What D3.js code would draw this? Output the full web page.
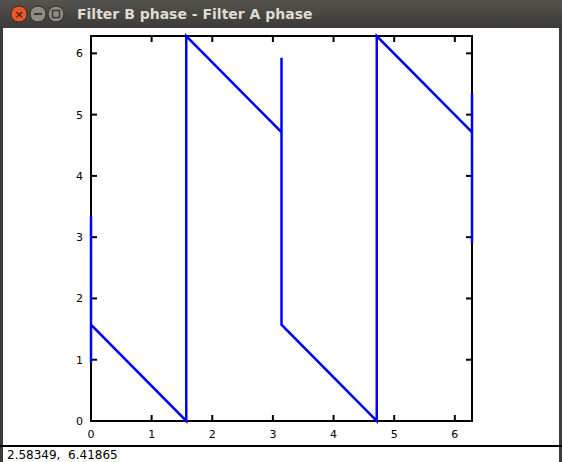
<!DOCTYPE html><html><head><meta charset="utf-8">
<script src="https://cdn.jsdelivr.net/npm/d3@7"></script>
<style>body{margin:0;background:#fff}svg{display:block}</style></head><body>
<script>
const xs = [0, 0, 0, 1.5708, 1.5708, 3.1416, 3.1416, 3.1416, 4.7124, 4.7124, 6.2832, 6.2832, 6.2832];
const ys = [0.95, 3.35, 1.5708, 0, 6.2832, 4.7124, 5.93, 1.5708, 0, 6.2832, 4.7124, 5.35, 2.9];
const xTicks = [0,1,2,3,4,5,6];
const yTicks = [0,1,2,3,4,5,6];
const title = "Filter B phase - Filter A phase";
const status = "2.58349,  6.41865";

const W=562,H=462;
const svg=d3.select("body").append("svg").attr("width",W).attr("height",H);
svg.append("rect").attr("width",W).attr("height",H).attr("fill","#fff");
const g0=svg.append("defs").append("linearGradient").attr("id","tb").attr("x1",0).attr("x2",0).attr("y1",0).attr("y2",1);
g0.append("stop").attr("offset",0).attr("stop-color","#55534d");
g0.append("stop").attr("offset",1).attr("stop-color","#3c3b37");
svg.append("rect").attr("width",W).attr("height",28).attr("fill","url(#tb)");
svg.append("circle").attr("cx",19).attr("cy",14).attr("r",8).attr("fill","#e9582a").attr("stroke","#3a2a22");
svg.append("text").attr("x",19).attr("y",18).attr("text-anchor","middle").attr("font-size",11).attr("font-weight","bold").attr("fill","#4a2010").attr("font-family","DejaVu Sans").text("×");
svg.append("circle").attr("cx",38).attr("cy",14).attr("r",8).attr("fill","#8e8c86").attr("stroke","#2e2d2a");
svg.append("rect").attr("x",34).attr("y",13).attr("width",8).attr("height",2).attr("fill","#3c3b37");
svg.append("circle").attr("cx",56).attr("cy",14).attr("r",8).attr("fill","#8e8c86").attr("stroke","#2e2d2a");
svg.append("rect").attr("x",52.5).attr("y",10.5).attr("width",7).attr("height",7).attr("fill","none").attr("stroke","#3c3b37").attr("stroke-width",1.5);
svg.append("text").attr("x",77).attr("y",19).attr("font-family","DejaVu Sans").attr("font-weight","bold").attr("font-size",14).attr("fill","#dfdbd2").text(title);
svg.append("rect").attr("x",0).attr("y",28).attr("width",3).attr("height",H-28).attr("fill","#3c3b37");
svg.append("rect").attr("x",W-3).attr("y",28).attr("width",3).attr("height",H-28).attr("fill","#3c3b37");
svg.append("rect").attr("x",0).attr("y",445).attr("width",W).attr("height",2).attr("fill","#000");
svg.append("text").attr("x",7).attr("y",459).attr("font-family","DejaVu Sans").attr("font-size",12).attr("fill","#000").style("white-space","pre").text(status);

const x=d3.scaleLinear().domain([0,2*Math.PI]).range([91,472]);
const y=d3.scaleLinear().domain([0,2*Math.PI]).range([421,36]);
const fnt="DejaVu Sans";
const ax=svg.append("g");
xTicks.forEach(t=>{
  ax.append("line").attr("x1",x(t)).attr("x2",x(t)).attr("y1",421).attr("y2",415).attr("stroke","#000").attr("stroke-width",2);
  ax.append("line").attr("x1",x(t)).attr("x2",x(t)).attr("y1",36).attr("y2",42).attr("stroke","#000").attr("stroke-width",2);
  ax.append("text").attr("x",x(t)).attr("y",438).attr("text-anchor","middle").attr("font-family",fnt).attr("font-size",11).text(t);
});
yTicks.forEach(t=>{
  ax.append("line").attr("x1",91).attr("x2",97).attr("y1",y(t)).attr("y2",y(t)).attr("stroke","#000").attr("stroke-width",2);
  ax.append("line").attr("x1",472).attr("x2",466).attr("y1",y(t)).attr("y2",y(t)).attr("stroke","#000").attr("stroke-width",2);
  ax.append("text").attr("x",83).attr("y",y(t)+4).attr("text-anchor","end").attr("font-family",fnt).attr("font-size",11).text(t);
});
svg.append("rect").attr("x",91).attr("y",36).attr("width",381).attr("height",385).attr("fill","none").attr("stroke","#000").attr("stroke-width",2);
const pts=xs.map((v,i)=>[v,ys[i]]);
svg.append("path").attr("d",d3.line().x(d=>x(d[0])).y(d=>y(d[1]))(pts)).attr("fill","none").attr("stroke","#0000ff").attr("stroke-width",2.5);
</script></body></html>
